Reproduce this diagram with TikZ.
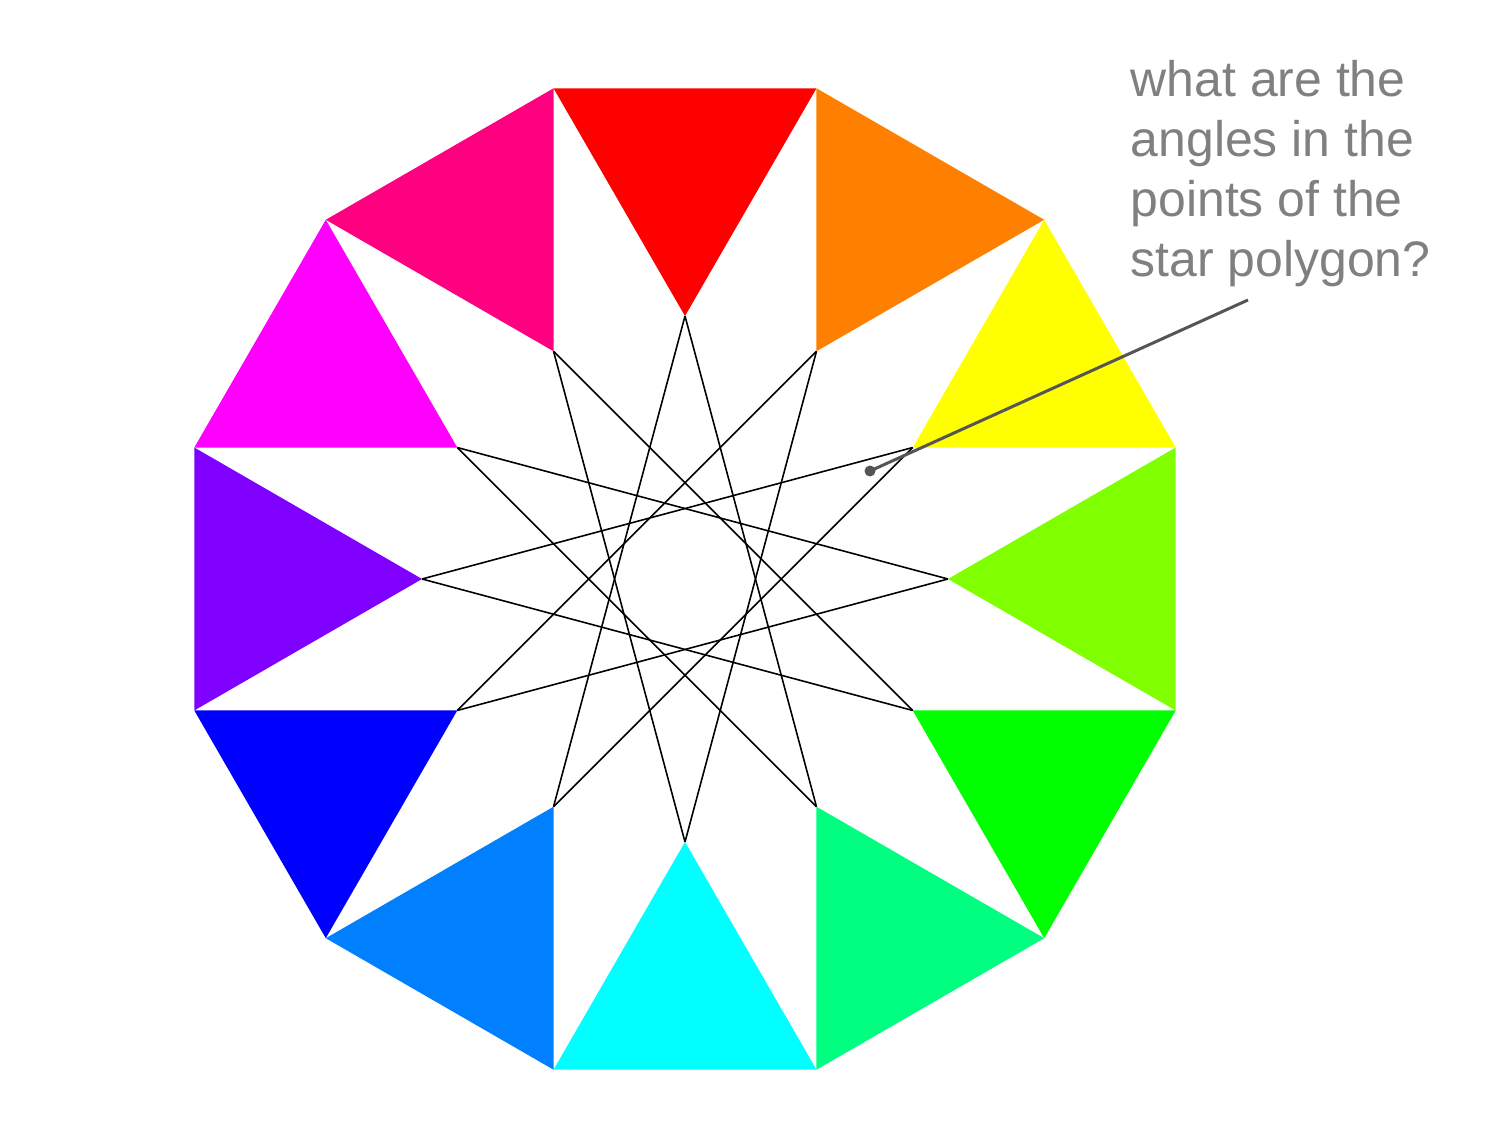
\documentclass[tikz,border=0pt]{standalone}
\usepackage{fontspec}
\setmainfont{Liberation Sans}
\usetikzlibrary{calc}
\definecolor{c0}{RGB}{255,0,0}
\definecolor{c1}{RGB}{255,128,0}
\definecolor{c2}{RGB}{255,255,0}
\definecolor{c3}{RGB}{128,255,0}
\definecolor{c4}{RGB}{0,255,0}
\definecolor{c5}{RGB}{0,255,128}
\definecolor{c6}{RGB}{0,255,255}
\definecolor{c7}{RGB}{0,128,255}
\definecolor{c8}{RGB}{0,0,255}
\definecolor{c9}{RGB}{128,0,255}
\definecolor{c10}{RGB}{255,0,255}
\definecolor{c11}{RGB}{255,0,128}
\definecolor{txtgray}{RGB}{128,128,128}
\definecolor{pointer}{RGB}{85,85,85}
\tikzset{
  starline/.style={draw=black, line width=0.45pt},
  qtext/.style={anchor=base west, inner sep=0pt, text=txtgray, font=\fontsize{14.2}{17.07}\selectfont},
  pointerline/.style={draw=pointer, line width=0.85pt},
  pointerdot/.style={circle, fill=pointer, inner sep=0pt, minimum size=0.11cm},
}
\begin{document}
\begin{tikzpicture}[x=0.01cm, y=-0.01cm]
\useasboundingbox (0,0) rectangle (1500,1125);
\fill[white] (0,0) rectangle (1500,1125);
% centre and radii (pixels); y axis points down, so screen angle = -a
\coordinate (C) at (685,579);
\def\R{508}
\def\r{262.96}
% triangles
\foreach \k in {0,...,11}{
  \pgfmathsetmacro{\a}{30*\k-90}
  \fill[c\k] ($(C)+({\a+15}:\R)$) -- ($(C)+({\a-15}:\R)$) -- ($(C)+(\a:\r)$) -- cycle;
}
% inner points
\foreach \k in {0,...,11}{
  \pgfmathsetmacro{\a}{30*\k-90}
  \coordinate (P\k) at ($(C)+(\a:\r)$);
}
% star polygon {12/5}
\foreach \k in {0,...,11}{
  \pgfmathtruncatemacro{\j}{mod(\k+5,12)}
  \draw[starline] (P\k) -- (P\j);
}
% question text
\node[qtext] (t1) at (1130,97) {what are the};
\node[qtext] (t2) at (1130,157) {angles in the};
\node[qtext] (t3) at (1130,217) {points of the};
\node[qtext] (t4) at (1130,277) {star polygon?};
% pointer
\coordinate (ps) at (1248,300);
\node[pointerdot] (pd) at (870,471) {};
\draw[pointerline] (ps) -- (pd.center);
\end{tikzpicture}
\end{document}
